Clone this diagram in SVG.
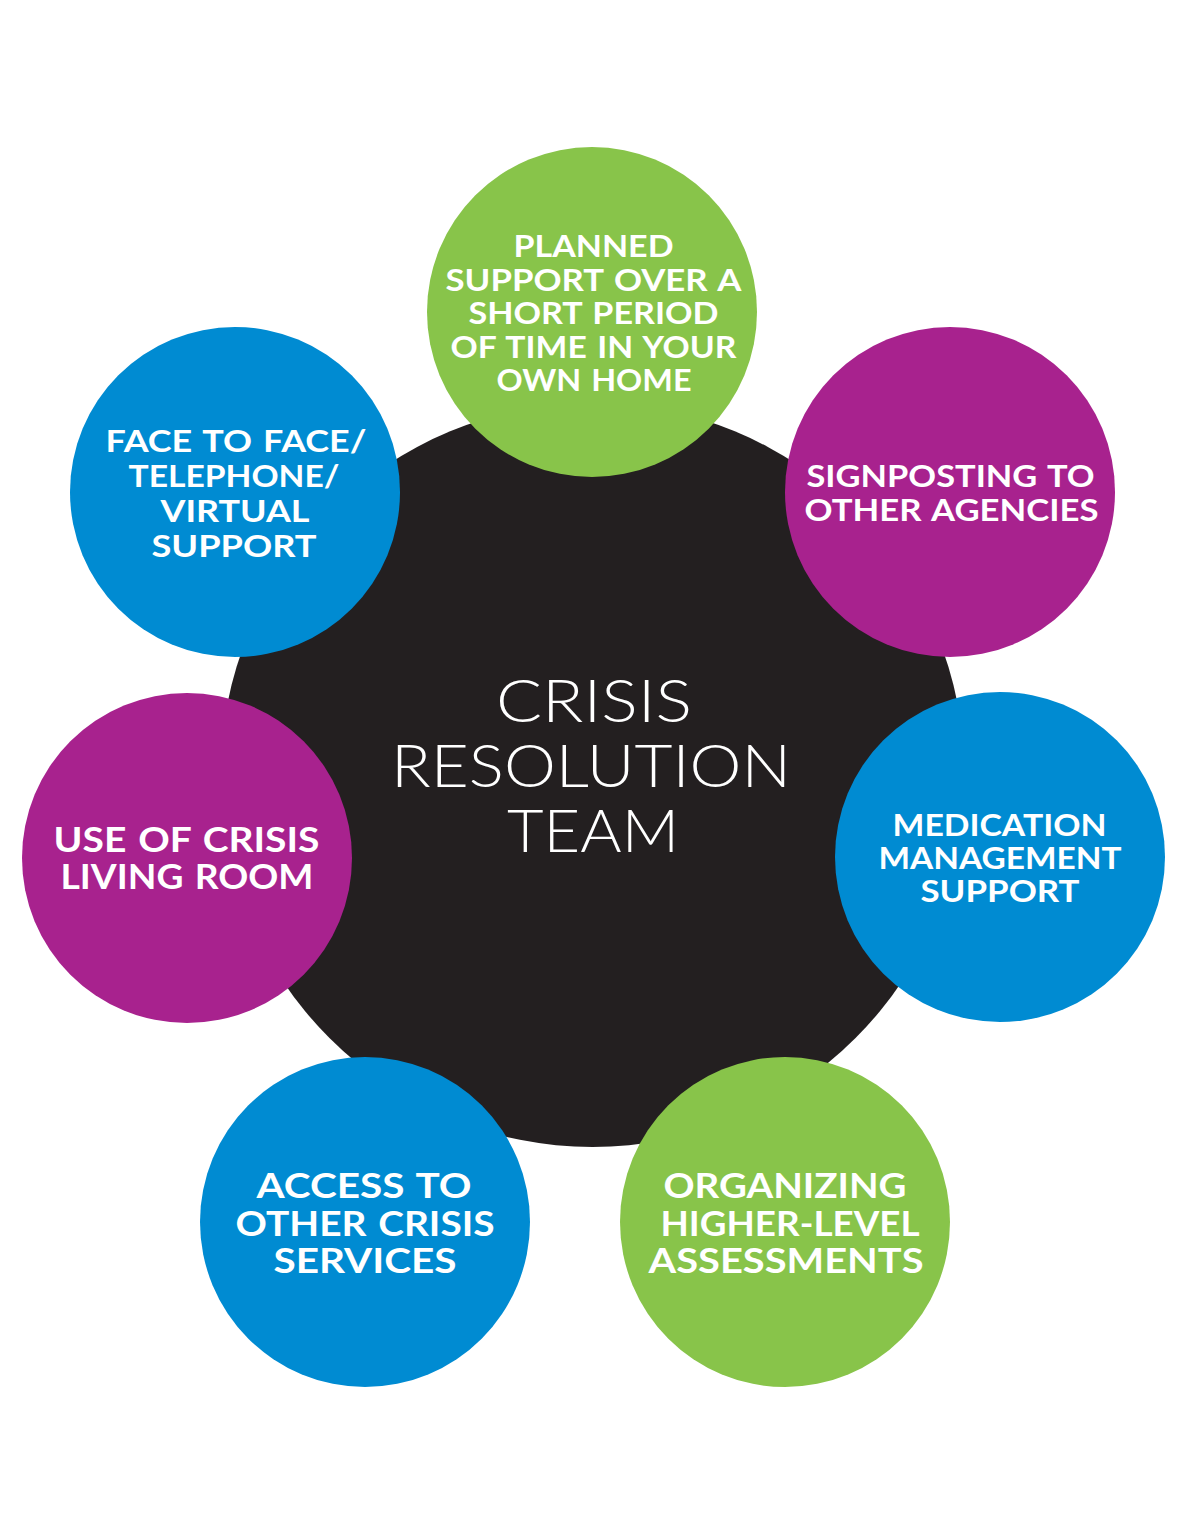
<svg xmlns="http://www.w3.org/2000/svg" width="1187" height="1536" viewBox="0 0 1187 1536">
<style>
.lbl{font-family:Lato,"Open Sans","Liberation Sans",sans-serif;font-weight:700;fill:#fff;text-anchor:middle;word-spacing:2px}
.ctr{font-family:Lato,"Open Sans","Liberation Sans",sans-serif;font-weight:300;fill:#fff;text-anchor:middle;font-size:59px}
.g{fill:#88C44A}.p{fill:#A8228E}.b{fill:#008BD2}
</style>
<rect width="1187" height="1536" fill="#fff"/>
<g id="connectors"></g>
<g id="center">
<circle cx="592.5" cy="775" r="372" fill="#231F20"/>
<text class="ctr" x="594" y="722" textLength="196" lengthAdjust="spacingAndGlyphs">CRISIS</text>
<text class="ctr" x="591" y="787" textLength="400" lengthAdjust="spacingAndGlyphs">RESOLUTION</text>
<text class="ctr" x="593" y="852" textLength="172" lengthAdjust="spacingAndGlyphs">TEAM</text>
</g>
<g id="planned">
<circle class="g" cx="592" cy="312" r="165"/>
<text class="lbl" font-size="30"><tspan x="593.5" y="257" textLength="160" lengthAdjust="spacingAndGlyphs">PLANNED</tspan><tspan x="593.5" y="290.5" textLength="296" lengthAdjust="spacingAndGlyphs">SUPPORT OVER A</tspan><tspan x="593.5" y="324" textLength="250" lengthAdjust="spacingAndGlyphs">SHORT PERIOD</tspan><tspan x="593.5" y="357.5" textLength="286" lengthAdjust="spacingAndGlyphs">OF TIME IN YOUR</tspan><tspan x="594" y="391" textLength="195" lengthAdjust="spacingAndGlyphs">OWN HOME</tspan></text>
</g>
<g id="signposting">
<circle class="p" cx="950" cy="492" r="165"/>
<text class="lbl" font-size="30.5"><tspan x="950.5" y="487" textLength="288" lengthAdjust="spacingAndGlyphs">SIGNPOSTING TO</tspan><tspan x="951.5" y="521" textLength="294" lengthAdjust="spacingAndGlyphs">OTHER AGENCIES</tspan></text>
</g>
<g id="face">
<circle class="b" cx="235" cy="492" r="165"/>
<text class="lbl" font-size="31"><tspan x="236" y="452" textLength="261" lengthAdjust="spacingAndGlyphs">FACE TO FACE/</tspan><tspan x="234" y="487" textLength="211" lengthAdjust="spacingAndGlyphs">TELEPHONE/</tspan><tspan x="235" y="522" textLength="149" lengthAdjust="spacingAndGlyphs">VIRTUAL</tspan><tspan x="234" y="557" textLength="165" lengthAdjust="spacingAndGlyphs">SUPPORT</tspan></text>
</g>
<g id="medication">
<circle class="b" cx="1000" cy="857" r="165"/>
<text class="lbl" font-size="30"><tspan x="999.5" y="836" textLength="214" lengthAdjust="spacingAndGlyphs">MEDICATION</tspan><tspan x="1000" y="869" textLength="243" lengthAdjust="spacingAndGlyphs">MANAGEMENT</tspan><tspan x="1000" y="902" textLength="159" lengthAdjust="spacingAndGlyphs">SUPPORT</tspan></text>
</g>
<g id="living">
<circle class="p" cx="187" cy="858" r="165"/>
<text class="lbl" font-size="33.5"><tspan x="186.5" y="852" textLength="266" lengthAdjust="spacingAndGlyphs">USE OF CRISIS</tspan><tspan x="187" y="889" textLength="253" lengthAdjust="spacingAndGlyphs">LIVING ROOM</tspan></text>
</g>
<g id="access">
<circle class="b" cx="365" cy="1222" r="165"/>
<text class="lbl" font-size="33.5"><tspan x="364" y="1198" textLength="215" lengthAdjust="spacingAndGlyphs">ACCESS TO</tspan><tspan x="365" y="1235.5" textLength="259" lengthAdjust="spacingAndGlyphs">OTHER CRISIS</tspan><tspan x="365" y="1273" textLength="183" lengthAdjust="spacingAndGlyphs">SERVICES</tspan></text>
</g>
<g id="organizing">
<circle class="g" cx="785" cy="1222" r="165"/>
<text class="lbl" font-size="33.5"><tspan x="785" y="1198" textLength="243" lengthAdjust="spacingAndGlyphs">ORGANIZING</tspan><tspan x="790" y="1235.5" textLength="259" lengthAdjust="spacingAndGlyphs">HIGHER-LEVEL</tspan><tspan x="786" y="1273" textLength="275" lengthAdjust="spacingAndGlyphs">ASSESSMENTS</tspan></text>
</g>
</svg>
